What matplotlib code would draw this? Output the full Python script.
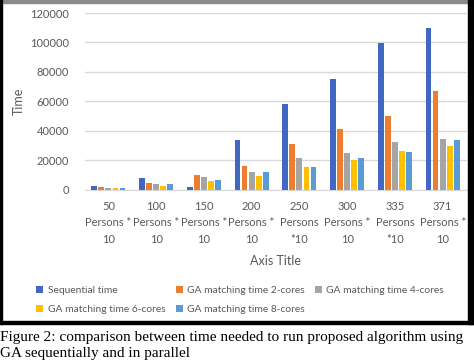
import matplotlib
matplotlib.use("Agg")
import matplotlib.pyplot as plt
import numpy as np
from matplotlib.patches import Rectangle

# data
categories = ["50\nPersons *\n10", "100\nPersons *\n10", "150\nPersons *\n10",
              "200\nPersons *\n10", "250\nPersons\n*10", "300\nPersons *\n10",
              "335\nPersons\n*10", "371\nPersons *\n10"]
sequential = [2500, 7700, 2000, 33400, 58300, 75100, 99400, 109900]
ga_2cores = [1800, 4500, 9800, 16100, 30900, 40900, 49900, 67000]
ga_4cores = [900, 3600, 8400, 11600, 21100, 24500, 32500, 34500]
ga_6cores = [800, 2500, 5900, 9300, 15400, 20000, 25900, 29500]
ga_8cores = [1200, 3600, 6400, 11600, 15000, 21600, 25600, 33400]

series = [sequential, ga_2cores, ga_4cores, ga_6cores, ga_8cores]
names = ["Sequential time", "GA matching time 2-cores", "GA matching time 4-cores",
         "GA matching time 6-cores", "GA matching time 8-cores"]
colors = ["#4068C2", "#ED7D31", "#A5A5A5", "#FFC000", "#5B9BD5"]

W, H = 474, 363
fig = plt.figure(figsize=(W / 100, H / 100), dpi=100)
fig.patch.set_facecolor("white")

# frame around the chart (as in the scanned figure)
def px_rect(x0, y0, x1, y1, color):
    fig.patches.append(Rectangle((x0 / W, 1 - y1 / H), (x1 - x0) / W, (y1 - y0) / H,
                                 transform=fig.transFigure, color=color, zorder=0))

px_rect(0, 0, W, 3, "#8a8a8a")
px_rect(0, 0, 2, 324, "black")
px_rect(468, 0, W, 324, "black")
px_rect(0, 321, W, 324, "black")

ax = fig.add_axes([84.5 / W, 1 - 189.5 / H, 382 / W, 176.5 / H])
x = np.arange(len(categories))
slot = 0.148
for i, (vals, c, n) in enumerate(zip(series, colors, names)):
    ax.bar(x + (i - 2) * slot, vals, width=0.122, color=c, label=n, zorder=3)

ax.set_xlim(-0.5, 7.5)
ax.set_ylim(0, 120000)
ax.set_yticks(range(0, 120001, 20000))
ax.yaxis.grid(True, color="#D9D9D9", lw=1, zorder=0)
for s in ["top", "right", "left"]:
    ax.spines[s].set_visible(False)
ax.spines["bottom"].set_color("#D9D9D9")
ax.tick_params(length=0, colors="#595959", labelsize=8)
ax.tick_params(axis="y", pad=11)
ax.tick_params(axis="x", pad=8)
ax.set_xticks(x)
ax.set_xticklabels(categories, fontfamily="Lato", linespacing=1.65, color="#595959")
for lbl in ax.get_yticklabels():
    lbl.set_fontfamily("Lato")
ax.set_ylabel("Time", fontfamily="Lato", fontsize=9, color="#595959", labelpad=8)
ax.yaxis.set_label_coords(-0.155, 0.5)
ax.set_xlabel("Axis Title", fontfamily="Lato", fontsize=9, color="#595959", labelpad=7)

handles, labels = ax.get_legend_handles_labels()
order = [0, 3, 1, 4, 2]
leg = fig.legend([handles[k] for k in order], [labels[k] for k in order], ncol=3,
                 loc="center left", bbox_to_anchor=(27 / W, 1 - 300 / H),
                 frameon=False, prop={"family": "Lato", "size": 7.4},
                 handlelength=0.7, handleheight=0.7, handletextpad=0.4,
                 columnspacing=1.0, labelspacing=0.95, labelcolor="#595959")

fig.text(0 / W, 1 - 337 / H, "Figure 2: comparison between time needed to run proposed algorithm using",
         fontfamily="Liberation Serif", fontsize=11.0, va="center", ha="left")
fig.text(0 / W, 1 - 353 / H, "GA sequentially and in parallel",
         fontfamily="Liberation Serif", fontsize=11.0, va="center", ha="left")

fig.savefig("out.png", dpi=100)
